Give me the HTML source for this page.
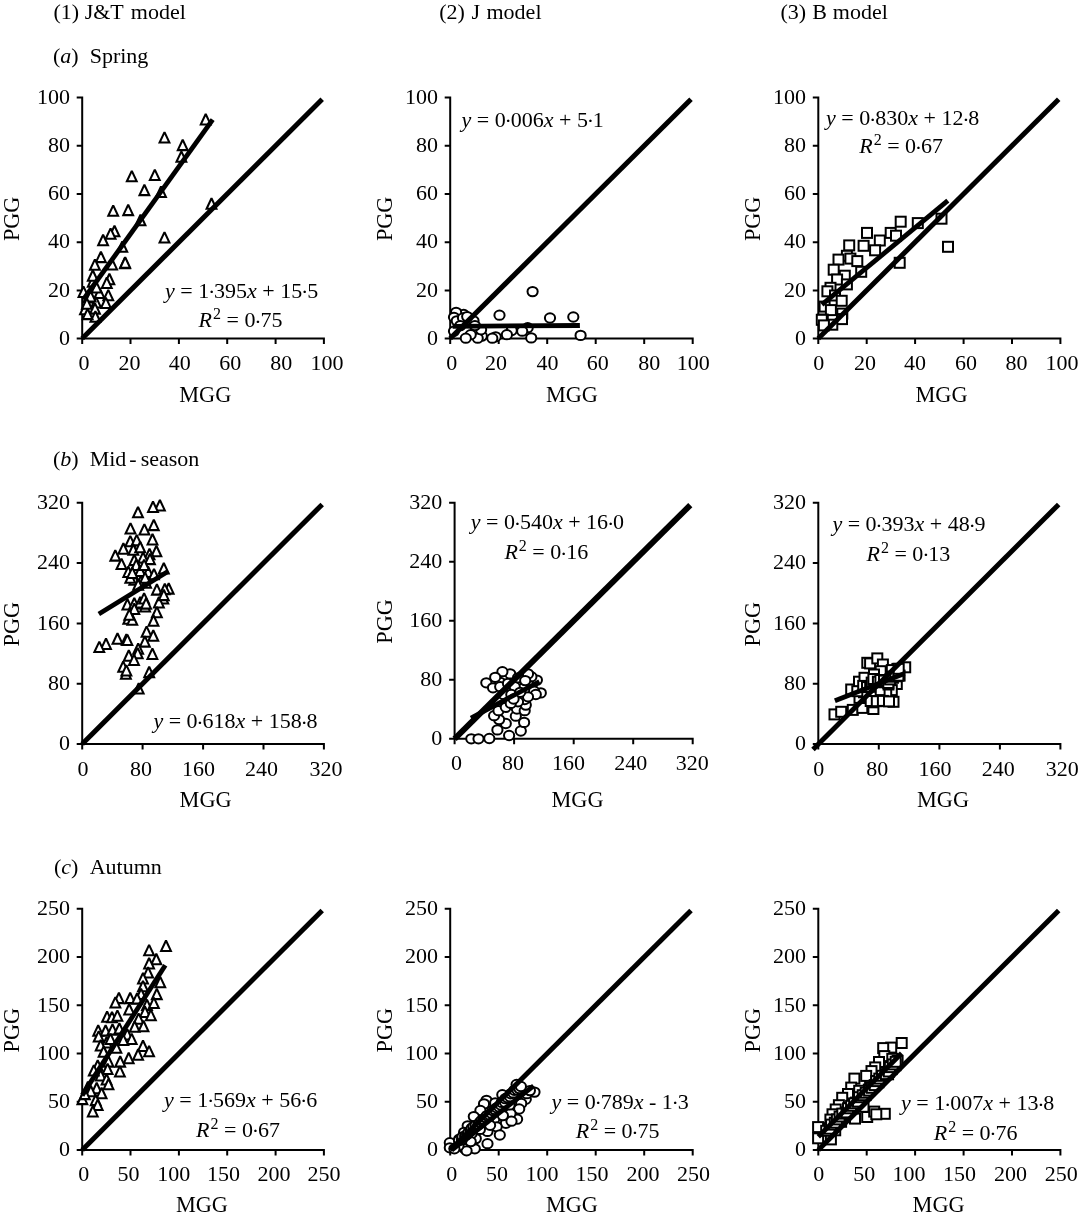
<!DOCTYPE html>
<html lang="en"><head><meta charset="utf-8"><title>PGG vs MGG</title>
<style>html,body{margin:0;padding:0;background:#fff}svg{display:block}text{font-family:"Liberation Serif","DejaVu Serif",serif;font-size:22px;fill:#000}.i{font-style:italic}.ax{stroke:#000;stroke-width:2;fill:none}.m{fill:#fff;stroke:#000;stroke-width:2;stroke-linejoin:miter}.l1{stroke:#000;stroke-width:5;fill:none}.l2{stroke:#000;stroke-width:4.8;fill:none}</style></head><body>
<svg width="1078" height="1218" viewBox="0 0 1078 1218">
<rect width="1078" height="1218" fill="#fff"/>
<text x="53.5" y="18.5">(1) J&amp;T <tspan dx="1.9">model</tspan></text>
<text x="439.3" y="18.5" style="word-spacing:1px">(2) J model</text>
<text x="780.5" y="18.5" style="word-spacing:0.5px">(3) B model</text>
<text x="53" y="63">(<tspan class="i">a</tspan>) <tspan dx="5.5">Spring</tspan></text>
<text x="53" y="466">(<tspan class="i">b</tspan>) <tspan dx="5.5">Mid</tspan><tspan dx="3">-</tspan><tspan dx="4">season</tspan></text>
<text x="54" y="874.4">(<tspan class="i">c</tspan>) <tspan dx="7">Autumn</tspan></text>
<g id="p00">
<path class="ax" d="M82.2 96.5V338.6H324.9M76.7 338.6H82.2M82.2 338.6V344.1M76.7 290.4H82.2M130.5 338.6V344.1M76.7 242.2H82.2M178.9 338.6V344.1M76.7 193.9H82.2M227.2 338.6V344.1M76.7 145.7H82.2M275.6 338.6V344.1M76.7 97.5H82.2M323.9 338.6V344.1"/>
<text x="69.9" y="344.8" text-anchor="end">0</text>
<text x="83.9" y="369.5" text-anchor="middle">0</text>
<text x="69.9" y="296.6" text-anchor="end">20</text>
<text x="129.4" y="369.5" text-anchor="middle">20</text>
<text x="69.9" y="248.4" text-anchor="end">40</text>
<text x="179.7" y="369.5" text-anchor="middle">40</text>
<text x="69.9" y="200.1" text-anchor="end">60</text>
<text x="230.3" y="369.5" text-anchor="middle">60</text>
<text x="69.9" y="151.9" text-anchor="end">80</text>
<text x="281.3" y="369.5" text-anchor="middle">80</text>
<text x="69.9" y="103.7" text-anchor="end">100</text>
<text x="327.1" y="369.5" text-anchor="middle">100</text>
<text x="205.25" y="401.8" text-anchor="middle" style="font-size:22.3px">MGG</text>
<text transform="translate(19.0 218.9) rotate(-90)" text-anchor="middle" style="font-size:22.2px">PGG</text>
<g class="m" style="stroke-width:2.05;stroke-miterlimit:2"><path d="M159.6 142.5L164.5 132.1L169.4 142.5Z"/><path d="M177.8 150.1L182.7 139.7L187.6 150.1Z"/><path d="M176.5 161.8L181.4 151.4L186.3 161.8Z"/><path d="M126.9 181.3L131.8 170.9L136.7 181.3Z"/><path d="M149.9 180.0L154.8 169.6L159.7 180.0Z"/><path d="M139.5 195.1L144.4 184.7L149.3 195.1Z"/><path d="M156.1 196.9L161.0 186.5L165.9 196.9Z"/><path d="M108.3 215.8L113.2 205.4L118.1 215.8Z"/><path d="M123.3 215.1L128.2 204.7L133.1 215.1Z"/><path d="M200.8 124.4L205.7 114.0L210.6 124.4Z"/><path d="M206.6 208.7L211.5 198.3L216.4 208.7Z"/><path d="M135.6 225.2L140.5 214.8L145.4 225.2Z"/><path d="M109.6 236.2L114.5 225.8L119.4 236.2Z"/><path d="M105.7 238.8L110.6 228.4L115.5 238.8Z"/><path d="M159.6 242.5L164.5 232.1L169.4 242.5Z"/><path d="M117.4 251.8L122.3 241.4L127.2 251.8Z"/><path d="M120.0 268.1L124.9 257.7L129.8 268.1Z"/><path d="M98.2 245.2L103.1 234.8L108.0 245.2Z"/><path d="M96.0 262.1L100.9 251.7L105.8 262.1Z"/><path d="M120.3 267.7L125.2 257.3L130.1 267.7Z"/><path d="M90.0 269.8L94.9 259.4L99.8 269.8Z"/><path d="M107.2 269.4L112.1 259.0L117.0 269.4Z"/><path d="M104.5 284.2L109.4 273.8L114.3 284.2Z"/><path d="M101.9 287.9L106.8 277.5L111.7 287.9Z"/><path d="M94.5 298.0L99.4 287.6L104.3 298.0Z"/><path d="M103.4 300.3L108.3 289.9L113.2 300.3Z"/><path d="M91.2 307.5L96.1 297.1L101.0 307.5Z"/><path d="M101.0 308.0L105.9 297.6L110.8 308.0Z"/><path d="M90.1 313.6L95.0 303.2L99.9 313.6Z"/><path d="M90.5 321.7L95.4 311.3L100.3 321.7Z"/><path d="M80.1 314.3L85.0 303.9L89.9 314.3Z"/><path d="M83.4 302.5L88.3 292.1L93.2 302.5Z"/><path d="M78.6 296.9L83.5 286.5L88.4 296.9Z"/><path d="M87.9 286.6L92.8 276.2L97.7 286.6Z"/><path d="M87.9 280.7L92.8 270.3L97.7 280.7Z"/><path d="M82.7 319.1L87.6 308.7L92.5 319.1Z"/><path d="M91.6 292.5L96.5 282.1L101.4 292.5Z"/><path d="M85.7 301.4L90.6 291.0L95.5 301.4Z"/><path d="M82.0 308.8L86.9 298.4L91.8 308.8Z"/></g>
<path class="l1" d="M82.2 338.6L322.2 99.2"/>
<path class="l2" d="M83.4 299.5L212.7 119.6"/>
<text x="241.6" y="297.5" text-anchor="middle"><tspan class="i">y</tspan> = <tspan dx="0 -1.2 -1.2 0 0" dy="0 1.8 -1.8 0 0">1·395</tspan><tspan class="i">x</tspan> <tspan dx="0 0 0 0 -1.2 -1.2" dy="0 0 0 0 1.8 -1.8">+ 15·5</tspan></text>
<text x="240.5" y="327" text-anchor="middle"><tspan class="i">R</tspan><tspan dx="1" dy="-8" style="font-size:16px">2</tspan><tspan dy="8"> = <tspan dx="0 -1.2 -1.2 0" dy="0 1.8 -1.8 0">0·75</tspan></tspan></text>
</g>
<g id="p01">
<path class="ax" d="M450.2 96.5V338.6H693.7M444.7 338.6H450.2M450.2 338.6V344.1M444.7 290.4H450.2M498.7 338.6V344.1M444.7 242.2H450.2M547.2 338.6V344.1M444.7 193.9H450.2M595.7 338.6V344.1M444.7 145.7H450.2M644.2 338.6V344.1M444.7 97.5H450.2M692.7 338.6V344.1"/>
<text x="437.9" y="344.8" text-anchor="end">0</text>
<text x="451.8" y="369.5" text-anchor="middle">0</text>
<text x="437.9" y="296.6" text-anchor="end">20</text>
<text x="496.1" y="369.5" text-anchor="middle">20</text>
<text x="437.9" y="248.4" text-anchor="end">40</text>
<text x="547.6" y="369.5" text-anchor="middle">40</text>
<text x="437.9" y="200.1" text-anchor="end">60</text>
<text x="597.7" y="369.5" text-anchor="middle">60</text>
<text x="437.9" y="151.9" text-anchor="end">80</text>
<text x="649.2" y="369.5" text-anchor="middle">80</text>
<text x="437.9" y="103.7" text-anchor="end">100</text>
<text x="693.3" y="369.5" text-anchor="middle">100</text>
<text x="571.9" y="401.8" text-anchor="middle" style="font-size:22.3px">MGG</text>
<text transform="translate(392.4 218.9) rotate(-90)" text-anchor="middle" style="font-size:22.2px">PGG</text>
<g class="m"><ellipse cx="532.6" cy="291.6" rx="5.1" ry="4.65"/><ellipse cx="499.5" cy="315.2" rx="5.1" ry="4.65"/><ellipse cx="550.0" cy="318.0" rx="5.1" ry="4.65"/><ellipse cx="573.3" cy="317.0" rx="5.1" ry="4.65"/><ellipse cx="580.6" cy="335.4" rx="5.1" ry="4.65"/><ellipse cx="531.2" cy="337.9" rx="5.1" ry="4.65"/><ellipse cx="527.7" cy="327.7" rx="5.1" ry="4.65"/><ellipse cx="522.2" cy="331.2" rx="5.1" ry="4.65"/><ellipse cx="511.7" cy="330.5" rx="5.1" ry="4.65"/><ellipse cx="506.9" cy="334.7" rx="5.1" ry="4.65"/><ellipse cx="495.7" cy="336.8" rx="5.1" ry="4.65"/><ellipse cx="492.3" cy="338.2" rx="5.1" ry="4.65"/><ellipse cx="481.8" cy="336.1" rx="5.1" ry="4.65"/><ellipse cx="477.7" cy="338.2" rx="5.1" ry="4.65"/><ellipse cx="481.1" cy="329.8" rx="5.1" ry="4.65"/><ellipse cx="470.7" cy="334.7" rx="5.1" ry="4.65"/><ellipse cx="465.8" cy="338.2" rx="5.1" ry="4.65"/><ellipse cx="473.5" cy="320.8" rx="5.1" ry="4.65"/><ellipse cx="463.7" cy="314.5" rx="5.1" ry="4.65"/><ellipse cx="456.1" cy="312.4" rx="5.1" ry="4.65"/><ellipse cx="454.0" cy="317.3" rx="5.1" ry="4.65"/><ellipse cx="456.8" cy="320.8" rx="5.1" ry="4.65"/><ellipse cx="463.0" cy="318.0" rx="5.1" ry="4.65"/><ellipse cx="467.2" cy="316.6" rx="5.1" ry="4.65"/><ellipse cx="474.9" cy="325.6" rx="5.1" ry="4.65"/><ellipse cx="460.3" cy="325.6" rx="5.1" ry="4.65"/><ellipse cx="454.0" cy="331.2" rx="5.1" ry="4.65"/></g>
<path class="l1" d="M450.2 338.6L691.0 99.2"/>
<path class="l2" d="M452.6 326.3L579.9 325.5"/>
<text x="532.7" y="126.6" text-anchor="middle"><tspan class="i">y</tspan> = <tspan dx="0 -1.2 -1.2 0 0" dy="0 1.8 -1.8 0 0">0·006</tspan><tspan class="i">x</tspan> <tspan dx="0 0 0 -1.2 -1.2" dy="0 0 0 1.8 -1.8">+ 5·1</tspan></text>
</g>
<g id="p02">
<path class="ax" d="M818.3 96.5V338.6H1061.4M812.8 338.6H818.3M818.3 338.6V344.1M812.8 290.4H818.3M866.7 338.6V344.1M812.8 242.2H818.3M915.1 338.6V344.1M812.8 193.9H818.3M963.6 338.6V344.1M812.8 145.7H818.3M1012.0 338.6V344.1M812.8 97.5H818.3M1060.4 338.6V344.1"/>
<text x="806.0" y="344.8" text-anchor="end">0</text>
<text x="818.8" y="369.5" text-anchor="middle">0</text>
<text x="806.0" y="296.6" text-anchor="end">20</text>
<text x="865.0" y="369.5" text-anchor="middle">20</text>
<text x="806.0" y="248.4" text-anchor="end">40</text>
<text x="915.1" y="369.5" text-anchor="middle">40</text>
<text x="806.0" y="200.1" text-anchor="end">60</text>
<text x="965.9" y="369.5" text-anchor="middle">60</text>
<text x="806.0" y="151.9" text-anchor="end">80</text>
<text x="1016.4" y="369.5" text-anchor="middle">80</text>
<text x="806.0" y="103.7" text-anchor="end">100</text>
<text x="1062.0" y="369.5" text-anchor="middle">100</text>
<text x="941.5" y="401.8" text-anchor="middle" style="font-size:22.3px">MGG</text>
<text transform="translate(759.8 218.9) rotate(-90)" text-anchor="middle" style="font-size:22.2px">PGG</text>
<g class="m"><rect x="943.0" y="241.8" width="10.0" height="10.0"/><rect x="936.5" y="213.7" width="10.0" height="10.0"/><rect x="912.8" y="218.1" width="10.0" height="10.0"/><rect x="895.7" y="216.7" width="10.0" height="10.0"/><rect x="894.7" y="257.8" width="10.0" height="10.0"/><rect x="885.7" y="227.9" width="10.0" height="10.0"/><rect x="891.0" y="230.7" width="10.0" height="10.0"/><rect x="874.8" y="235.5" width="10.0" height="10.0"/><rect x="862.0" y="227.9" width="10.0" height="10.0"/><rect x="870.1" y="245.3" width="10.0" height="10.0"/><rect x="858.6" y="240.8" width="10.0" height="10.0"/><rect x="844.2" y="240.4" width="10.0" height="10.0"/><rect x="841.9" y="250.8" width="10.0" height="10.0"/><rect x="845.4" y="253.6" width="10.0" height="10.0"/><rect x="852.3" y="256.1" width="10.0" height="10.0"/><rect x="833.5" y="254.6" width="10.0" height="10.0"/><rect x="828.7" y="264.7" width="10.0" height="10.0"/><rect x="839.8" y="270.7" width="10.0" height="10.0"/><rect x="856.2" y="266.8" width="10.0" height="10.0"/><rect x="832.1" y="274.5" width="10.0" height="10.0"/><rect x="841.9" y="279.4" width="10.0" height="10.0"/><rect x="825.5" y="282.8" width="10.0" height="10.0"/><rect x="822.4" y="286.3" width="10.0" height="10.0"/><rect x="830.0" y="290.5" width="10.0" height="10.0"/><rect x="836.7" y="295.8" width="10.0" height="10.0"/><rect x="819.6" y="301.6" width="10.0" height="10.0"/><rect x="825.9" y="305.1" width="10.0" height="10.0"/><rect x="837.3" y="308.6" width="10.0" height="10.0"/><rect x="817.8" y="314.6" width="10.0" height="10.0"/><rect x="816.8" y="314.8" width="10.0" height="10.0"/><rect x="837.0" y="314.1" width="10.0" height="10.0"/><rect x="827.3" y="319.7" width="10.0" height="10.0"/><rect x="818.9" y="320.4" width="10.0" height="10.0"/></g>
<path class="l1" d="M818.3 338.6L1058.7 99.2"/>
<path class="l2" d="M821.9 304.7L947.8 200.7"/>
<text x="902.7" y="125" text-anchor="middle"><tspan class="i">y</tspan> = <tspan dx="0 -1.2 -1.2 0 0" dy="0 1.8 -1.8 0 0">0·830</tspan><tspan class="i">x</tspan> <tspan dx="0 0 0 0 -1.2 -1.2" dy="0 0 0 0 1.8 -1.8">+ 12·8</tspan></text>
<text x="901.1" y="153" text-anchor="middle"><tspan class="i">R</tspan><tspan dx="1" dy="-8" style="font-size:16px">2</tspan><tspan dy="8"> = <tspan dx="0 -1.2 -1.2 0" dy="0 1.8 -1.8 0">0·67</tspan></tspan></text>
</g>
<g id="p10">
<path class="ax" d="M82.2 501.7V744.1H324.9M76.7 744.1H82.2M82.2 744.1V749.6M76.7 683.8H82.2M142.6 744.1V749.6M76.7 623.4H82.2M203.1 744.1V749.6M76.7 563.0H82.2M263.5 744.1V749.6M76.7 502.7H82.2M323.9 744.1V749.6"/>
<text x="69.9" y="750.3" text-anchor="end">0</text>
<text x="83.0" y="776.0" text-anchor="middle">0</text>
<text x="69.9" y="690.0" text-anchor="end">80</text>
<text x="141.1" y="776.0" text-anchor="middle">80</text>
<text x="69.9" y="629.6" text-anchor="end">160</text>
<text x="198.4" y="776.0" text-anchor="middle">160</text>
<text x="69.9" y="569.2" text-anchor="end">240</text>
<text x="261.5" y="776.0" text-anchor="middle">240</text>
<text x="69.9" y="508.9" text-anchor="end">320</text>
<text x="326.1" y="776.0" text-anchor="middle">320</text>
<text x="205.6" y="806.8" text-anchor="middle" style="font-size:22.3px">MGG</text>
<text transform="translate(19.0 624.2) rotate(-90)" text-anchor="middle" style="font-size:22.2px">PGG</text>
<g class="m" style="stroke-width:2.05;stroke-miterlimit:2"><path d="M155.0 510.4L159.9 500.0L164.8 510.4Z"/><path d="M148.1 511.9L153.0 501.5L157.9 511.9Z"/><path d="M133.1 517.3L138.0 506.9L142.9 517.3Z"/><path d="M148.9 530.1L153.8 519.7L158.7 530.1Z"/><path d="M125.6 533.5L130.5 523.1L135.4 533.5Z"/><path d="M139.5 534.5L144.4 524.1L149.3 534.5Z"/><path d="M147.6 544.4L152.5 534.0L157.4 544.4Z"/><path d="M125.4 546.3L130.3 535.9L135.2 546.3Z"/><path d="M131.8 545.3L136.7 534.9L141.6 545.3Z"/><path d="M118.5 553.7L123.4 543.3L128.3 553.7Z"/><path d="M128.4 554.7L133.3 544.3L138.2 554.7Z"/><path d="M135.3 552.2L140.2 541.8L145.1 552.2Z"/><path d="M151.5 556.2L156.4 545.8L161.3 556.2Z"/><path d="M110.4 560.6L115.3 550.2L120.2 560.6Z"/><path d="M144.6 559.1L149.5 548.7L154.4 559.1Z"/><path d="M138.2 562.6L143.1 552.2L148.0 562.6Z"/><path d="M145.1 564.1L150.0 553.7L154.9 564.1Z"/><path d="M116.6 569.0L121.5 558.6L126.4 569.0Z"/><path d="M129.4 565.1L134.3 554.7L139.2 565.1Z"/><path d="M158.9 573.4L163.8 563.0L168.7 573.4Z"/><path d="M123.4 576.9L128.3 566.5L133.2 576.9Z"/><path d="M131.3 574.9L136.2 564.5L141.1 574.9Z"/><path d="M138.2 575.9L143.1 565.5L148.0 575.9Z"/><path d="M143.2 576.9L148.1 566.5L153.0 576.9Z"/><path d="M149.1 579.3L154.0 568.9L158.9 579.3Z"/><path d="M129.4 584.8L134.3 574.4L139.2 584.8Z"/><path d="M125.4 582.8L130.3 572.4L135.2 582.8Z"/><path d="M136.3 585.7L141.2 575.3L146.1 585.7Z"/><path d="M141.2 587.7L146.1 577.3L151.0 587.7Z"/><path d="M152.0 594.6L156.9 584.2L161.8 594.6Z"/><path d="M163.8 593.6L168.7 583.2L173.6 593.6Z"/><path d="M159.9 594.1L164.8 583.7L169.7 594.1Z"/><path d="M158.4 603.5L163.3 593.1L168.2 603.5Z"/><path d="M154.0 607.4L158.9 597.0L163.8 607.4Z"/><path d="M122.5 609.4L127.4 599.0L132.3 609.4Z"/><path d="M129.4 608.4L134.3 598.0L139.2 608.4Z"/><path d="M135.3 607.4L140.2 597.0L145.1 607.4Z"/><path d="M139.2 603.5L144.1 593.1L149.0 603.5Z"/><path d="M140.2 611.4L145.1 601.0L150.0 611.4Z"/><path d="M158.9 600.1L163.8 589.7L168.7 600.1Z"/><path d="M141.2 608.6L146.1 598.2L151.0 608.6Z"/><path d="M129.4 613.9L134.3 603.5L139.2 613.9Z"/><path d="M152.0 617.3L156.9 606.9L161.8 617.3Z"/><path d="M148.6 625.7L153.5 615.3L158.4 625.7Z"/><path d="M123.4 623.8L128.3 613.4L133.2 623.8Z"/><path d="M127.4 624.8L132.3 614.4L137.2 624.8Z"/><path d="M124.4 619.8L129.3 609.4L134.2 619.8Z"/><path d="M141.7 636.8L146.6 626.4L151.5 636.8Z"/><path d="M148.4 640.7L153.3 630.3L158.2 640.7Z"/><path d="M112.6 643.7L117.5 633.3L122.4 643.7Z"/><path d="M121.5 644.5L126.4 634.1L131.3 644.5Z"/><path d="M122.5 645.0L127.4 634.6L132.3 645.0Z"/><path d="M101.1 648.9L106.0 638.5L110.9 648.9Z"/><path d="M94.4 652.0L99.3 641.6L104.2 652.0Z"/><path d="M140.0 646.6L144.9 636.2L149.8 646.6Z"/><path d="M133.3 653.8L138.2 643.4L143.1 653.8Z"/><path d="M147.5 658.9L152.4 648.5L157.3 658.9Z"/><path d="M132.8 658.3L137.7 647.9L142.6 658.3Z"/><path d="M123.9 660.7L128.8 650.3L133.7 660.7Z"/><path d="M129.1 664.9L134.0 654.5L138.9 664.9Z"/><path d="M118.3 671.8L123.2 661.4L128.1 671.8Z"/><path d="M121.0 678.7L125.9 668.3L130.8 678.7Z"/><path d="M121.5 675.5L126.4 665.1L131.3 675.5Z"/><path d="M144.3 677.1L149.2 666.7L154.1 677.1Z"/><path d="M133.8 693.5L138.7 683.1L143.6 693.5Z"/><path d="M131.3 570.0L136.2 559.6L141.1 570.0Z"/><path d="M135.3 575.9L140.2 565.5L145.1 575.9Z"/><path d="M140.2 582.8L145.1 572.4L150.0 582.8Z"/><path d="M133.3 589.7L138.2 579.3L143.1 589.7Z"/><path d="M127.4 577.9L132.3 567.5L137.2 577.9Z"/><path d="M139.2 570.0L144.1 559.6L149.0 570.0Z"/></g>
<path class="l1" d="M82.2 744.1L322.2 504.4"/>
<path class="l2" d="M98.8 614.0L168.3 571.2"/>
<text x="235.5" y="728" text-anchor="middle"><tspan class="i">y</tspan> = <tspan dx="0 -1.2 -1.2 0 0" dy="0 1.8 -1.8 0 0">0·618</tspan><tspan class="i">x</tspan> <tspan dx="0 0 0 0 0 -1.2 -1.2" dy="0 0 0 0 0 1.8 -1.8">+ 158·8</tspan></text>
</g>
<g id="p11">
<path class="ax" d="M454.6 501.7V738.8H693.7M449.1 738.8H454.6M454.6 738.8V744.3M449.1 679.8H454.6M514.1 738.8V744.3M449.1 620.8H454.6M573.7 738.8V744.3M449.1 561.7H454.6M633.2 738.8V744.3M449.1 502.7H454.6M692.7 738.8V744.3"/>
<text x="442.3" y="745.0" text-anchor="end">0</text>
<text x="456.6" y="769.6" text-anchor="middle">0</text>
<text x="442.3" y="686.0" text-anchor="end">80</text>
<text x="513.1" y="769.6" text-anchor="middle">80</text>
<text x="442.3" y="627.0" text-anchor="end">160</text>
<text x="568.4" y="769.6" text-anchor="middle">160</text>
<text x="442.3" y="567.9" text-anchor="end">240</text>
<text x="630.8" y="769.6" text-anchor="middle">240</text>
<text x="442.3" y="508.9" text-anchor="end">320</text>
<text x="692.3" y="769.6" text-anchor="middle">320</text>
<text x="577.5" y="806.8" text-anchor="middle" style="font-size:22.3px">MGG</text>
<text transform="translate(392.4 621.5) rotate(-90)" text-anchor="middle" style="font-size:22.2px">PGG</text>
<g class="m"><ellipse cx="505.8" cy="678.9" rx="5.1" ry="4.65"/><ellipse cx="512.4" cy="680.1" rx="5.1" ry="4.65"/><ellipse cx="500.2" cy="682.3" rx="5.1" ry="4.65"/><ellipse cx="516.9" cy="683.4" rx="5.1" ry="4.65"/><ellipse cx="521.3" cy="685.6" rx="5.1" ry="4.65"/><ellipse cx="508.0" cy="690.1" rx="5.1" ry="4.65"/><ellipse cx="528.0" cy="684.5" rx="5.1" ry="4.65"/><ellipse cx="532.5" cy="683.4" rx="5.1" ry="4.65"/><ellipse cx="523.6" cy="687.8" rx="5.1" ry="4.65"/><ellipse cx="512.4" cy="689.0" rx="5.1" ry="4.65"/><ellipse cx="519.1" cy="696.8" rx="5.1" ry="4.65"/><ellipse cx="530.3" cy="690.1" rx="5.1" ry="4.65"/><ellipse cx="471.3" cy="738.8" rx="5.1" ry="4.65"/><ellipse cx="478.5" cy="738.8" rx="5.1" ry="4.65"/><ellipse cx="489.3" cy="738.5" rx="5.1" ry="4.65"/><ellipse cx="509.1" cy="735.5" rx="5.1" ry="4.65"/><ellipse cx="520.8" cy="731.0" rx="5.1" ry="4.65"/><ellipse cx="497.4" cy="729.9" rx="5.1" ry="4.65"/><ellipse cx="524.1" cy="722.4" rx="5.1" ry="4.65"/><ellipse cx="505.8" cy="723.5" rx="5.1" ry="4.65"/><ellipse cx="499.1" cy="719.6" rx="5.1" ry="4.65"/><ellipse cx="515.8" cy="716.2" rx="5.1" ry="4.65"/><ellipse cx="494.1" cy="715.7" rx="5.1" ry="4.65"/><ellipse cx="498.5" cy="710.7" rx="5.1" ry="4.65"/><ellipse cx="505.8" cy="707.3" rx="5.1" ry="4.65"/><ellipse cx="516.9" cy="709.0" rx="5.1" ry="4.65"/><ellipse cx="524.7" cy="710.7" rx="5.1" ry="4.65"/><ellipse cx="525.8" cy="705.1" rx="5.1" ry="4.65"/><ellipse cx="524.7" cy="699.5" rx="5.1" ry="4.65"/><ellipse cx="518.0" cy="701.8" rx="5.1" ry="4.65"/><ellipse cx="510.8" cy="703.4" rx="5.1" ry="4.65"/><ellipse cx="540.8" cy="692.9" rx="5.1" ry="4.65"/><ellipse cx="534.1" cy="691.2" rx="5.1" ry="4.65"/><ellipse cx="535.8" cy="694.5" rx="5.1" ry="4.65"/><ellipse cx="528.0" cy="696.8" rx="5.1" ry="4.65"/><ellipse cx="536.9" cy="680.1" rx="5.1" ry="4.65"/><ellipse cx="531.4" cy="676.7" rx="5.1" ry="4.65"/><ellipse cx="528.0" cy="673.9" rx="5.1" ry="4.65"/><ellipse cx="510.2" cy="673.9" rx="5.1" ry="4.65"/><ellipse cx="502.4" cy="671.7" rx="5.1" ry="4.65"/><ellipse cx="495.2" cy="677.3" rx="5.1" ry="4.65"/><ellipse cx="486.3" cy="682.8" rx="5.1" ry="4.65"/><ellipse cx="493.0" cy="687.8" rx="5.1" ry="4.65"/><ellipse cx="500.2" cy="686.7" rx="5.1" ry="4.65"/><ellipse cx="508.0" cy="683.4" rx="5.1" ry="4.65"/><ellipse cx="514.7" cy="686.7" rx="5.1" ry="4.65"/><ellipse cx="518.0" cy="677.8" rx="5.1" ry="4.65"/><ellipse cx="503.5" cy="694.5" rx="5.1" ry="4.65"/><ellipse cx="511.3" cy="694.5" rx="5.1" ry="4.65"/><ellipse cx="520.2" cy="692.3" rx="5.1" ry="4.65"/><ellipse cx="513.6" cy="699.0" rx="5.1" ry="4.65"/></g>
<path class="l1" style="stroke-width:5.9" d="M454.6 738.8L690.3 505.1"/>
<path class="l2" d="M471.0 718.2L539.4 681.6"/>
<g class="m"><ellipse cx="525.2" cy="680.6" rx="5.1" ry="4.65"/></g>
<text x="547.4" y="529" text-anchor="middle"><tspan class="i">y</tspan> = <tspan dx="0 -1.2 -1.2 0 0" dy="0 1.8 -1.8 0 0">0·540</tspan><tspan class="i">x</tspan> <tspan dx="0 0 0 0 -1.2 -1.2" dy="0 0 0 0 1.8 -1.8">+ 16·0</tspan></text>
<text x="546.3" y="559" text-anchor="middle"><tspan class="i">R</tspan><tspan dx="1" dy="-8" style="font-size:16px">2</tspan><tspan dy="8"> = <tspan dx="0 -1.2 -1.2 0" dy="0 1.8 -1.8 0">0·16</tspan></tspan></text>
</g>
<g id="p12">
<path class="ax" d="M818.3 501.7V744.1H1061.4M812.8 744.1H818.3M818.3 744.1V749.6M812.8 683.8H818.3M878.8 744.1V749.6M812.8 623.4H818.3M939.4 744.1V749.6M812.8 563.0H818.3M999.9 744.1V749.6M812.8 502.7H818.3M1060.4 744.1V749.6"/>
<text x="806.0" y="750.3" text-anchor="end">0</text>
<text x="818.8" y="775.5" text-anchor="middle">0</text>
<text x="806.0" y="690.0" text-anchor="end">80</text>
<text x="877.2" y="775.5" text-anchor="middle">80</text>
<text x="806.0" y="629.6" text-anchor="end">160</text>
<text x="934.9" y="775.5" text-anchor="middle">160</text>
<text x="806.0" y="569.2" text-anchor="end">240</text>
<text x="998.3" y="775.5" text-anchor="middle">240</text>
<text x="806.0" y="508.9" text-anchor="end">320</text>
<text x="1062.2" y="775.5" text-anchor="middle">320</text>
<text x="943" y="806.8" text-anchor="middle" style="font-size:22.3px">MGG</text>
<text transform="translate(759.8 624.2) rotate(-90)" text-anchor="middle" style="font-size:22.2px">PGG</text>
<g class="m"><rect x="829.5" y="709.4" width="10.0" height="10.0"/><rect x="836.2" y="706.8" width="10.0" height="10.0"/><rect x="847.8" y="704.9" width="10.0" height="10.0"/><rect x="857.3" y="702.9" width="10.0" height="10.0"/><rect x="868.4" y="704.0" width="10.0" height="10.0"/><rect x="878.5" y="694.6" width="10.0" height="10.0"/><rect x="888.5" y="696.8" width="10.0" height="10.0"/><rect x="867.9" y="697.3" width="10.0" height="10.0"/><rect x="854.5" y="692.9" width="10.0" height="10.0"/><rect x="846.2" y="684.5" width="10.0" height="10.0"/><rect x="854.0" y="676.7" width="10.0" height="10.0"/><rect x="859.5" y="672.8" width="10.0" height="10.0"/><rect x="862.3" y="657.8" width="10.0" height="10.0"/><rect x="865.1" y="658.4" width="10.0" height="10.0"/><rect x="872.3" y="653.4" width="10.0" height="10.0"/><rect x="877.9" y="659.5" width="10.0" height="10.0"/><rect x="875.7" y="666.2" width="10.0" height="10.0"/><rect x="869.0" y="669.5" width="10.0" height="10.0"/><rect x="900.2" y="662.3" width="10.0" height="10.0"/><rect x="892.4" y="663.9" width="10.0" height="10.0"/><rect x="886.8" y="665.1" width="10.0" height="10.0"/><rect x="891.8" y="679.0" width="10.0" height="10.0"/><rect x="886.8" y="685.1" width="10.0" height="10.0"/><rect x="881.2" y="687.3" width="10.0" height="10.0"/><rect x="874.6" y="685.1" width="10.0" height="10.0"/><rect x="865.7" y="688.4" width="10.0" height="10.0"/><rect x="859.0" y="687.3" width="10.0" height="10.0"/><rect x="852.3" y="686.2" width="10.0" height="10.0"/><rect x="883.5" y="679.5" width="10.0" height="10.0"/><rect x="876.8" y="677.3" width="10.0" height="10.0"/><rect x="887.9" y="672.8" width="10.0" height="10.0"/><rect x="894.6" y="670.6" width="10.0" height="10.0"/><rect x="858.2" y="680.9" width="10.0" height="10.0"/><rect x="862.0" y="682.1" width="10.0" height="10.0"/><rect x="865.2" y="681.8" width="10.0" height="10.0"/><rect x="866.7" y="677.6" width="10.0" height="10.0"/><rect x="868.4" y="674.0" width="10.0" height="10.0"/><rect x="872.9" y="676.7" width="10.0" height="10.0"/><rect x="875.4" y="675.0" width="10.0" height="10.0"/><rect x="879.0" y="675.6" width="10.0" height="10.0"/><rect x="883.3" y="678.0" width="10.0" height="10.0"/><rect x="885.1" y="674.4" width="10.0" height="10.0"/><rect x="887.2" y="671.6" width="10.0" height="10.0"/><rect x="890.3" y="671.3" width="10.0" height="10.0"/><rect x="893.4" y="670.7" width="10.0" height="10.0"/><rect x="893.7" y="663.8" width="10.0" height="10.0"/><rect x="865.7" y="696.0" width="10.0" height="10.0"/><rect x="871.8" y="696.2" width="10.0" height="10.0"/><rect x="877.9" y="695.9" width="10.0" height="10.0"/><rect x="884.0" y="696.4" width="10.0" height="10.0"/></g>
<path class="l1" d="M813.0 749.4L1058.7 504.4"/>
<path class="l2" d="M834.9 700.7L904.5 673.4"/>
<text x="909" y="531" text-anchor="middle"><tspan class="i">y</tspan> = <tspan dx="0 -1.2 -1.2 0 0" dy="0 1.8 -1.8 0 0">0·393</tspan><tspan class="i">x</tspan> <tspan dx="0 0 0 0 -1.2 -1.2" dy="0 0 0 0 1.8 -1.8">+ 48·9</tspan></text>
<text x="908.4" y="560.6" text-anchor="middle"><tspan class="i">R</tspan><tspan dx="1" dy="-8" style="font-size:16px">2</tspan><tspan dy="8"> = <tspan dx="0 -1.2 -1.2 0" dy="0 1.8 -1.8 0">0·13</tspan></tspan></text>
</g>
<g id="p20">
<path class="ax" d="M82.2 907.7V1150.1H324.9M76.7 1150.1H82.2M82.2 1150.1V1155.6M76.7 1101.8H82.2M130.5 1150.1V1155.6M76.7 1053.5H82.2M178.9 1150.1V1155.6M76.7 1005.3H82.2M227.2 1150.1V1155.6M76.7 957.0H82.2M275.6 1150.1V1155.6M76.7 908.7H82.2M323.9 1150.1V1155.6"/>
<text x="69.9" y="1156.3" text-anchor="end">0</text>
<text x="83.8" y="1181" text-anchor="middle">0</text>
<text x="69.9" y="1108.0" text-anchor="end">50</text>
<text x="128.6" y="1181" text-anchor="middle">50</text>
<text x="69.9" y="1059.7" text-anchor="end">100</text>
<text x="173.7" y="1181" text-anchor="middle">100</text>
<text x="69.9" y="1011.5" text-anchor="end">150</text>
<text x="223.4" y="1181" text-anchor="middle">150</text>
<text x="69.9" y="963.2" text-anchor="end">200</text>
<text x="273.9" y="1181" text-anchor="middle">200</text>
<text x="69.9" y="914.9" text-anchor="end">250</text>
<text x="324.1" y="1181" text-anchor="middle">250</text>
<text x="201.9" y="1212.3" text-anchor="middle" style="font-size:22.3px">MGG</text>
<text transform="translate(19.0 1030.2) rotate(-90)" text-anchor="middle" style="font-size:22.2px">PGG</text>
<g class="m" style="stroke-width:2.05;stroke-miterlimit:2"><path d="M161.1 950.9L166.0 940.5L170.9 950.9Z"/><path d="M144.2 955.3L149.1 944.9L154.0 955.3Z"/><path d="M151.4 964.2L156.3 953.8L161.2 964.2Z"/><path d="M144.2 968.4L149.1 958.0L154.0 968.4Z"/><path d="M143.2 977.5L148.1 967.1L153.0 977.5Z"/><path d="M138.1 983.4L143.0 973.0L147.9 983.4Z"/><path d="M155.4 987.3L160.3 976.9L165.2 987.3Z"/><path d="M138.1 991.3L143.0 980.9L147.9 991.3Z"/><path d="M151.9 999.1L156.8 988.7L161.7 999.1Z"/><path d="M136.2 999.1L141.1 988.7L146.0 999.1Z"/><path d="M114.0 1003.1L118.9 992.7L123.8 1003.1Z"/><path d="M125.3 1003.1L130.2 992.7L135.1 1003.1Z"/><path d="M132.2 1003.6L137.1 993.2L142.0 1003.6Z"/><path d="M110.5 1007.5L115.4 997.1L120.3 1007.5Z"/><path d="M142.1 1010.0L147.0 999.6L151.9 1010.0Z"/><path d="M149.0 1008.0L153.9 997.6L158.8 1008.0Z"/><path d="M124.3 1014.4L129.2 1004.0L134.1 1014.4Z"/><path d="M140.1 1016.9L145.0 1006.5L149.9 1016.9Z"/><path d="M146.0 1020.3L150.9 1009.9L155.8 1020.3Z"/><path d="M102.2 1021.8L107.1 1011.4L112.0 1021.8Z"/><path d="M107.1 1022.3L112.0 1011.9L116.9 1022.3Z"/><path d="M112.5 1020.8L117.4 1010.4L122.3 1020.8Z"/><path d="M133.7 1023.8L138.6 1013.4L143.5 1023.8Z"/><path d="M129.8 1031.7L134.7 1021.3L139.6 1031.7Z"/><path d="M138.6 1031.2L143.5 1020.8L148.4 1031.2Z"/><path d="M93.3 1035.6L98.2 1025.2L103.1 1035.6Z"/><path d="M100.7 1035.6L105.6 1025.2L110.5 1035.6Z"/><path d="M107.6 1034.6L112.5 1024.2L117.4 1034.6Z"/><path d="M114.5 1033.6L119.4 1023.2L124.3 1033.6Z"/><path d="M122.4 1039.5L127.3 1029.1L132.2 1039.5Z"/><path d="M93.8 1041.5L98.7 1031.1L103.6 1041.5Z"/><path d="M101.7 1047.4L106.6 1037.0L111.5 1047.4Z"/><path d="M138.1 1050.9L143.0 1040.5L147.9 1050.9Z"/><path d="M144.2 1056.3L149.1 1045.9L154.0 1056.3Z"/><path d="M133.2 1059.7L138.1 1049.3L143.0 1059.7Z"/><path d="M123.8 1063.2L128.7 1052.8L133.6 1063.2Z"/><path d="M115.3 1066.6L120.2 1056.2L125.1 1066.6Z"/><path d="M115.0 1076.5L119.9 1066.1L124.8 1076.5Z"/><path d="M126.8 1044.0L131.7 1033.6L136.6 1044.0Z"/><path d="M118.4 1045.0L123.3 1034.6L128.2 1045.0Z"/><path d="M105.6 1044.0L110.5 1033.6L115.4 1044.0Z"/><path d="M95.8 1050.4L100.7 1040.0L105.6 1050.4Z"/><path d="M111.5 1052.8L116.4 1042.4L121.3 1052.8Z"/><path d="M98.7 1056.8L103.6 1046.4L108.5 1056.8Z"/><path d="M103.6 1066.6L108.5 1056.2L113.4 1066.6Z"/><path d="M102.7 1074.0L107.6 1063.6L112.5 1074.0Z"/><path d="M92.8 1070.6L97.7 1060.2L102.6 1070.6Z"/><path d="M95.8 1080.4L100.7 1070.0L105.6 1080.4Z"/><path d="M101.7 1084.4L106.6 1074.0L111.5 1084.4Z"/><path d="M103.6 1089.3L108.5 1078.9L113.4 1089.3Z"/><path d="M91.8 1093.2L96.7 1082.8L101.6 1093.2Z"/><path d="M96.7 1098.2L101.6 1087.8L106.5 1098.2Z"/><path d="M83.0 1092.2L87.9 1081.8L92.8 1092.2Z"/><path d="M77.5 1104.1L82.4 1093.7L87.3 1104.1Z"/><path d="M90.8 1105.1L95.7 1094.7L100.6 1105.1Z"/><path d="M92.8 1110.0L97.7 1099.6L102.6 1110.0Z"/><path d="M87.9 1116.4L92.8 1106.0L97.7 1116.4Z"/><path d="M85.9 1096.2L90.8 1085.8L95.7 1096.2Z"/><path d="M80.0 1099.1L84.9 1088.7L89.8 1099.1Z"/><path d="M88.9 1075.5L93.8 1065.1L98.7 1075.5Z"/></g>
<path class="l1" d="M82.2 1150.1L322.2 910.4"/>
<path class="l2" d="M82.2 1095.4L165.3 965.2"/>
<text x="240.6" y="1106.5" text-anchor="middle"><tspan class="i">y</tspan> = <tspan dx="0 -1.2 -1.2 0 0" dy="0 1.8 -1.8 0 0">1·569</tspan><tspan class="i">x</tspan> <tspan dx="0 0 0 0 -1.2 -1.2" dy="0 0 0 0 1.8 -1.8">+ 56·6</tspan></text>
<text x="238" y="1136.5" text-anchor="middle"><tspan class="i">R</tspan><tspan dx="1" dy="-8" style="font-size:16px">2</tspan><tspan dy="8"> = <tspan dx="0 -1.2 -1.2 0" dy="0 1.8 -1.8 0">0·67</tspan></tspan></text>
</g>
<g id="p21">
<path class="ax" d="M450.2 907.7V1150.1H693.7M444.7 1150.1H450.2M450.2 1150.1V1155.6M444.7 1101.8H450.2M498.7 1150.1V1155.6M444.7 1053.5H450.2M547.2 1150.1V1155.6M444.7 1005.3H450.2M595.7 1150.1V1155.6M444.7 957.0H450.2M644.2 1150.1V1155.6M444.7 908.7H450.2M692.7 1150.1V1155.6"/>
<text x="437.9" y="1156.3" text-anchor="end">0</text>
<text x="451.8" y="1181" text-anchor="middle">0</text>
<text x="437.9" y="1108.0" text-anchor="end">50</text>
<text x="496.9" y="1181" text-anchor="middle">50</text>
<text x="437.9" y="1059.7" text-anchor="end">100</text>
<text x="541.9" y="1181" text-anchor="middle">100</text>
<text x="437.9" y="1011.5" text-anchor="end">150</text>
<text x="592.0" y="1181" text-anchor="middle">150</text>
<text x="437.9" y="963.2" text-anchor="end">200</text>
<text x="642.9" y="1181" text-anchor="middle">200</text>
<text x="437.9" y="914.9" text-anchor="end">250</text>
<text x="693.4" y="1181" text-anchor="middle">250</text>
<text x="571.9" y="1212.3" text-anchor="middle" style="font-size:22.3px">MGG</text>
<text transform="translate(392.4 1030.2) rotate(-90)" text-anchor="middle" style="font-size:22.2px">PGG</text>
<g class="m"><ellipse cx="457.7" cy="1142.4" rx="5.1" ry="4.65"/><ellipse cx="459.3" cy="1139.1" rx="5.1" ry="4.65"/><ellipse cx="464.8" cy="1140.6" rx="5.1" ry="4.65"/><ellipse cx="464.1" cy="1134.4" rx="5.1" ry="4.65"/><ellipse cx="469.3" cy="1135.6" rx="5.1" ry="4.65"/><ellipse cx="470.9" cy="1132.3" rx="5.1" ry="4.65"/><ellipse cx="471.7" cy="1128.0" rx="5.1" ry="4.65"/><ellipse cx="476.9" cy="1129.1" rx="5.1" ry="4.65"/><ellipse cx="476.8" cy="1123.7" rx="5.1" ry="4.65"/><ellipse cx="481.7" cy="1124.5" rx="5.1" ry="4.65"/><ellipse cx="482.2" cy="1119.8" rx="5.1" ry="4.65"/><ellipse cx="484.9" cy="1117.8" rx="5.1" ry="4.65"/><ellipse cx="489.4" cy="1118.2" rx="5.1" ry="4.65"/><ellipse cx="494.3" cy="1119.0" rx="5.1" ry="4.65"/><ellipse cx="492.8" cy="1111.8" rx="5.1" ry="4.65"/><ellipse cx="496.0" cy="1110.5" rx="5.1" ry="4.65"/><ellipse cx="500.9" cy="1111.3" rx="5.1" ry="4.65"/><ellipse cx="505.4" cy="1111.5" rx="5.1" ry="4.65"/><ellipse cx="505.8" cy="1106.8" rx="5.1" ry="4.65"/><ellipse cx="507.4" cy="1103.4" rx="5.1" ry="4.65"/><ellipse cx="513.3" cy="1105.5" rx="5.1" ry="4.65"/><ellipse cx="510.5" cy="1096.7" rx="5.1" ry="4.65"/><ellipse cx="517.8" cy="1100.5" rx="5.1" ry="4.65"/><ellipse cx="517.1" cy="1094.3" rx="5.1" ry="4.65"/><ellipse cx="518.9" cy="1091.2" rx="5.1" ry="4.65"/><ellipse cx="521.3" cy="1088.9" rx="5.1" ry="4.65"/><ellipse cx="534.5" cy="1092.1" rx="5.1" ry="4.65"/><ellipse cx="525.8" cy="1099.3" rx="5.1" ry="4.65"/><ellipse cx="521.2" cy="1103.4" rx="5.1" ry="4.65"/><ellipse cx="519.2" cy="1109.0" rx="5.1" ry="4.65"/><ellipse cx="517.1" cy="1119.2" rx="5.1" ry="4.65"/><ellipse cx="510.5" cy="1113.6" rx="5.1" ry="4.65"/><ellipse cx="505.9" cy="1123.3" rx="5.1" ry="4.65"/><ellipse cx="511.5" cy="1121.2" rx="5.1" ry="4.65"/><ellipse cx="502.9" cy="1115.6" rx="5.1" ry="4.65"/><ellipse cx="496.7" cy="1126.8" rx="5.1" ry="4.65"/><ellipse cx="499.8" cy="1135.0" rx="5.1" ry="4.65"/><ellipse cx="487.5" cy="1131.4" rx="5.1" ry="4.65"/><ellipse cx="487.5" cy="1143.7" rx="5.1" ry="4.65"/><ellipse cx="474.8" cy="1148.8" rx="5.1" ry="4.65"/><ellipse cx="464.1" cy="1148.3" rx="5.1" ry="4.65"/><ellipse cx="466.6" cy="1150.8" rx="5.1" ry="4.65"/><ellipse cx="449.8" cy="1142.7" rx="5.1" ry="4.65"/><ellipse cx="449.8" cy="1147.8" rx="5.1" ry="4.65"/><ellipse cx="475.8" cy="1138.6" rx="5.1" ry="4.65"/><ellipse cx="486.5" cy="1100.3" rx="5.1" ry="4.65"/><ellipse cx="484.0" cy="1103.9" rx="5.1" ry="4.65"/><ellipse cx="480.4" cy="1110.5" rx="5.1" ry="4.65"/><ellipse cx="473.8" cy="1116.6" rx="5.1" ry="4.65"/><ellipse cx="467.7" cy="1125.8" rx="5.1" ry="4.65"/><ellipse cx="464.1" cy="1132.4" rx="5.1" ry="4.65"/><ellipse cx="516.6" cy="1084.5" rx="5.1" ry="4.65"/><ellipse cx="519.2" cy="1087.0" rx="5.1" ry="4.65"/><ellipse cx="513.6" cy="1093.7" rx="5.1" ry="4.65"/><ellipse cx="502.3" cy="1094.7" rx="5.1" ry="4.65"/><ellipse cx="505.4" cy="1099.8" rx="5.1" ry="4.65"/><ellipse cx="500.3" cy="1105.9" rx="5.1" ry="4.65"/><ellipse cx="495.7" cy="1110.0" rx="5.1" ry="4.65"/><ellipse cx="495.2" cy="1102.9" rx="5.1" ry="4.65"/><ellipse cx="489.1" cy="1117.1" rx="5.1" ry="4.65"/><ellipse cx="483.0" cy="1123.3" rx="5.1" ry="4.65"/><ellipse cx="479.9" cy="1129.4" rx="5.1" ry="4.65"/><ellipse cx="471.7" cy="1133.5" rx="5.1" ry="4.65"/><ellipse cx="470.7" cy="1141.6" rx="5.1" ry="4.65"/><ellipse cx="460.5" cy="1140.6" rx="5.1" ry="4.65"/><ellipse cx="458.5" cy="1145.7" rx="5.1" ry="4.65"/><ellipse cx="454.4" cy="1148.8" rx="5.1" ry="4.65"/><ellipse cx="526.8" cy="1093.7" rx="5.1" ry="4.65"/><ellipse cx="529.9" cy="1090.6" rx="5.1" ry="4.65"/><ellipse cx="509.5" cy="1104.9" rx="5.1" ry="4.65"/><ellipse cx="490.1" cy="1125.3" rx="5.1" ry="4.65"/><ellipse cx="459.0" cy="1140.4" rx="5.1" ry="4.65"/><ellipse cx="461.9" cy="1139.8" rx="5.1" ry="4.65"/><ellipse cx="462.5" cy="1136.8" rx="5.1" ry="4.65"/><ellipse cx="465.1" cy="1136.0" rx="5.1" ry="4.65"/><ellipse cx="467.1" cy="1134.5" rx="5.1" ry="4.65"/><ellipse cx="468.5" cy="1132.3" rx="5.1" ry="4.65"/><ellipse cx="470.7" cy="1131.0" rx="5.1" ry="4.65"/><ellipse cx="471.6" cy="1128.3" rx="5.1" ry="4.65"/><ellipse cx="473.4" cy="1126.7" rx="5.1" ry="4.65"/><ellipse cx="475.6" cy="1125.3" rx="5.1" ry="4.65"/><ellipse cx="478.3" cy="1124.7" rx="5.1" ry="4.65"/><ellipse cx="479.7" cy="1122.5" rx="5.1" ry="4.65"/><ellipse cx="481.4" cy="1120.6" rx="5.1" ry="4.65"/><ellipse cx="483.7" cy="1119.5" rx="5.1" ry="4.65"/><ellipse cx="485.4" cy="1117.6" rx="5.1" ry="4.65"/><ellipse cx="486.9" cy="1115.6" rx="5.1" ry="4.65"/><ellipse cx="489.7" cy="1115.0" rx="5.1" ry="4.65"/><ellipse cx="491.4" cy="1113.2" rx="5.1" ry="4.65"/><ellipse cx="492.4" cy="1110.5" rx="5.1" ry="4.65"/><ellipse cx="494.9" cy="1109.6" rx="5.1" ry="4.65"/><ellipse cx="496.7" cy="1107.8" rx="5.1" ry="4.65"/><ellipse cx="499.2" cy="1106.9" rx="5.1" ry="4.65"/><ellipse cx="500.8" cy="1105.0" rx="5.1" ry="4.65"/><ellipse cx="501.8" cy="1102.4" rx="5.1" ry="4.65"/><ellipse cx="505.0" cy="1102.2" rx="5.1" ry="4.65"/><ellipse cx="505.2" cy="1098.7" rx="5.1" ry="4.65"/><ellipse cx="507.6" cy="1097.7" rx="5.1" ry="4.65"/><ellipse cx="510.1" cy="1096.8" rx="5.1" ry="4.65"/><ellipse cx="510.8" cy="1093.8" rx="5.1" ry="4.65"/><ellipse cx="513.3" cy="1092.9" rx="5.1" ry="4.65"/><ellipse cx="514.3" cy="1090.3" rx="5.1" ry="4.65"/><ellipse cx="517.4" cy="1090.0" rx="5.1" ry="4.65"/><ellipse cx="519.4" cy="1088.6" rx="5.1" ry="4.65"/><ellipse cx="520.9" cy="1086.5" rx="5.1" ry="4.65"/></g>
<path class="l1" d="M450.2 1150.1L691.0 910.4"/>
<path class="l2" d="M451.7 1150.2L533.6 1085.8"/>
<text x="620.1" y="1108.5" text-anchor="middle"><tspan class="i">y</tspan> = <tspan dx="0 -1.2 -1.2 0 0" dy="0 1.8 -1.8 0 0">0·789</tspan><tspan class="i">x</tspan> <tspan dx="0 0 0 -1.2 -1.2" dy="0 0 0 1.8 -1.8">- 1·3</tspan></text>
<text x="617.6" y="1138" text-anchor="middle"><tspan class="i">R</tspan><tspan dx="1" dy="-8" style="font-size:16px">2</tspan><tspan dy="8"> = <tspan dx="0 -1.2 -1.2 0" dy="0 1.8 -1.8 0">0·75</tspan></tspan></text>
</g>
<g id="p22">
<path class="ax" d="M818.3 907.7V1150.1H1061.4M812.8 1150.1H818.3M818.3 1150.1V1155.6M812.8 1101.8H818.3M866.7 1150.1V1155.6M812.8 1053.5H818.3M915.1 1150.1V1155.6M812.8 1005.3H818.3M963.6 1150.1V1155.6M812.8 957.0H818.3M1012.0 1150.1V1155.6M812.8 908.7H818.3M1060.4 1150.1V1155.6"/>
<text x="806.0" y="1156.3" text-anchor="end">0</text>
<text x="818.8" y="1181" text-anchor="middle">0</text>
<text x="806.0" y="1108.0" text-anchor="end">50</text>
<text x="864.3" y="1181" text-anchor="middle">50</text>
<text x="806.0" y="1059.7" text-anchor="end">100</text>
<text x="909.0" y="1181" text-anchor="middle">100</text>
<text x="806.0" y="1011.5" text-anchor="end">150</text>
<text x="959.5" y="1181" text-anchor="middle">150</text>
<text x="806.0" y="963.2" text-anchor="end">200</text>
<text x="1010.4" y="1181" text-anchor="middle">200</text>
<text x="806.0" y="914.9" text-anchor="end">250</text>
<text x="1061.2" y="1181" text-anchor="middle">250</text>
<text x="938.6" y="1212.3" text-anchor="middle" style="font-size:22.3px">MGG</text>
<text transform="translate(759.8 1030.2) rotate(-90)" text-anchor="middle" style="font-size:22.2px">PGG</text>
<g class="m"><rect x="825.3" y="1124.1" width="10.0" height="10.0"/><rect x="826.8" y="1116.9" width="10.0" height="10.0"/><rect x="833.2" y="1114.6" width="10.0" height="10.0"/><rect x="837.0" y="1109.8" width="10.0" height="10.0"/><rect x="841.4" y="1105.5" width="10.0" height="10.0"/><rect x="845.1" y="1100.5" width="10.0" height="10.0"/><rect x="851.5" y="1098.3" width="10.0" height="10.0"/><rect x="856.5" y="1094.6" width="10.0" height="10.0"/><rect x="858.4" y="1087.8" width="10.0" height="10.0"/><rect x="863.8" y="1084.6" width="10.0" height="10.0"/><rect x="865.1" y="1077.1" width="10.0" height="10.0"/><rect x="872.8" y="1076.2" width="10.0" height="10.0"/><rect x="876.9" y="1071.7" width="10.0" height="10.0"/><rect x="883.1" y="1069.3" width="10.0" height="10.0"/><rect x="886.7" y="1064.1" width="10.0" height="10.0"/><rect x="888.3" y="1056.9" width="10.0" height="10.0"/><rect x="896.7" y="1038.0" width="10.0" height="10.0"/><rect x="886.2" y="1042.6" width="10.0" height="10.0"/><rect x="878.2" y="1043.1" width="10.0" height="10.0"/><rect x="879.3" y="1051.1" width="10.0" height="10.0"/><rect x="887.3" y="1053.8" width="10.0" height="10.0"/><rect x="874.0" y="1057.0" width="10.0" height="10.0"/><rect x="870.2" y="1062.4" width="10.0" height="10.0"/><rect x="866.5" y="1066.1" width="10.0" height="10.0"/><rect x="861.2" y="1070.9" width="10.0" height="10.0"/><rect x="849.4" y="1073.6" width="10.0" height="10.0"/><rect x="846.2" y="1082.6" width="10.0" height="10.0"/><rect x="854.2" y="1085.8" width="10.0" height="10.0"/><rect x="843.0" y="1089.0" width="10.0" height="10.0"/><rect x="837.2" y="1092.8" width="10.0" height="10.0"/><rect x="833.9" y="1100.2" width="10.0" height="10.0"/><rect x="830.7" y="1104.5" width="10.0" height="10.0"/><rect x="827.5" y="1109.3" width="10.0" height="10.0"/><rect x="825.4" y="1114.6" width="10.0" height="10.0"/><rect x="813.1" y="1122.1" width="10.0" height="10.0"/><rect x="813.1" y="1133.3" width="10.0" height="10.0"/><rect x="825.9" y="1134.4" width="10.0" height="10.0"/><rect x="830.2" y="1125.3" width="10.0" height="10.0"/><rect x="823.8" y="1123.2" width="10.0" height="10.0"/><rect x="850.0" y="1113.6" width="10.0" height="10.0"/><rect x="862.2" y="1112.0" width="10.0" height="10.0"/><rect x="869.2" y="1106.6" width="10.0" height="10.0"/><rect x="879.8" y="1108.8" width="10.0" height="10.0"/><rect x="871.3" y="1109.3" width="10.0" height="10.0"/><rect x="858.5" y="1101.8" width="10.0" height="10.0"/><rect x="892.6" y="1055.9" width="10.0" height="10.0"/><rect x="890.5" y="1060.2" width="10.0" height="10.0"/><rect x="884.1" y="1066.6" width="10.0" height="10.0"/><rect x="877.7" y="1072.0" width="10.0" height="10.0"/><rect x="873.4" y="1077.3" width="10.0" height="10.0"/><rect x="867.0" y="1082.6" width="10.0" height="10.0"/><rect x="860.6" y="1090.1" width="10.0" height="10.0"/><rect x="851.0" y="1097.6" width="10.0" height="10.0"/><rect x="845.7" y="1104.0" width="10.0" height="10.0"/><rect x="839.3" y="1110.4" width="10.0" height="10.0"/><rect x="836.1" y="1116.8" width="10.0" height="10.0"/><rect x="821.2" y="1125.8" width="10.0" height="10.0"/><rect x="824.6" y="1123.7" width="10.0" height="10.0"/><rect x="826.1" y="1119.6" width="10.0" height="10.0"/><rect x="829.8" y="1117.7" width="10.0" height="10.0"/><rect x="831.9" y="1114.4" width="10.0" height="10.0"/><rect x="834.6" y="1111.5" width="10.0" height="10.0"/><rect x="837.3" y="1108.6" width="10.0" height="10.0"/><rect x="841.6" y="1107.4" width="10.0" height="10.0"/><rect x="843.0" y="1103.3" width="10.0" height="10.0"/><rect x="846.1" y="1100.8" width="10.0" height="10.0"/><rect x="849.2" y="1098.3" width="10.0" height="10.0"/><rect x="853.0" y="1096.6" width="10.0" height="10.0"/><rect x="854.1" y="1092.2" width="10.0" height="10.0"/><rect x="857.7" y="1090.2" width="10.0" height="10.0"/><rect x="860.7" y="1087.7" width="10.0" height="10.0"/><rect x="864.1" y="1085.6" width="10.0" height="10.0"/><rect x="866.8" y="1082.8" width="10.0" height="10.0"/><rect x="869.7" y="1080.1" width="10.0" height="10.0"/><rect x="871.2" y="1076.1" width="10.0" height="10.0"/><rect x="874.3" y="1073.6" width="10.0" height="10.0"/><rect x="877.0" y="1070.8" width="10.0" height="10.0"/><rect x="880.9" y="1069.1" width="10.0" height="10.0"/><rect x="883.8" y="1066.5" width="10.0" height="10.0"/><rect x="884.9" y="1062.1" width="10.0" height="10.0"/><rect x="887.8" y="1059.4" width="10.0" height="10.0"/><rect x="890.7" y="1056.8" width="10.0" height="10.0"/></g>
<path class="l1" d="M818.3 1150.1L1058.7 910.4"/>
<path class="l2" d="M818.3 1136.8L901.6 1053.2"/>
<text x="977.7" y="1110" text-anchor="middle"><tspan class="i">y</tspan> = <tspan dx="0 -1.2 -1.2 0 0" dy="0 1.8 -1.8 0 0">1·007</tspan><tspan class="i">x</tspan> <tspan dx="0 0 0 0 -1.2 -1.2" dy="0 0 0 0 1.8 -1.8">+ 13·8</tspan></text>
<text x="975.6" y="1139.5" text-anchor="middle"><tspan class="i">R</tspan><tspan dx="1" dy="-8" style="font-size:16px">2</tspan><tspan dy="8"> = <tspan dx="0 -1.2 -1.2 0" dy="0 1.8 -1.8 0">0·76</tspan></tspan></text>
</g>
</svg></body></html>
